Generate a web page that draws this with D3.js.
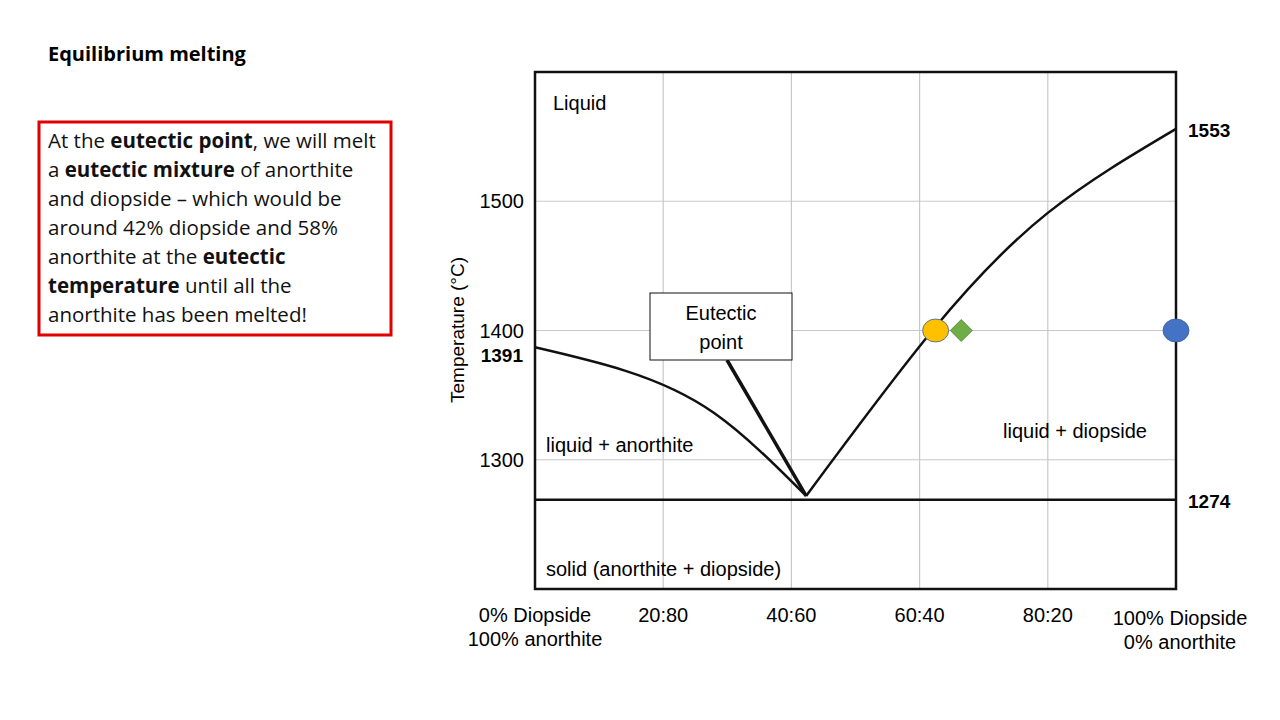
<!DOCTYPE html>
<html><head><meta charset="utf-8">
<script src="https://cdn.jsdelivr.net/npm/d3@7"></script>
<style>body{margin:0;background:#fff}</style>
</head><body><svg id="c" width="1280" height="720"></svg>
<script>
"use strict";

// composition (% diopside) vs temperature (°C)
const xTicks = [0, 20, 40, 60, 80, 100];
const xTickLabels = ["0% Diopside\n100% anorthite", "20:80", "40:60", "60:40", "80:20", "100% Diopside\n0% anorthite"];
const yTicks = [1300, 1400, 1500];
const anorthiteLiquidus = [[0, 1387], [14, 1369], [28, 1336], [42.3, 1272]];
const diopsideLiquidus = [[42.3, 1272], [62, 1400], [80, 1491], [100, 1556]];
const eutecticT = 1269;
const markers = [
    {x: 62.5, t: 1400, shape: "circle", color: "#ffc000"},
    {x: 66.5, t: 1400, shape: "diamond", color: "#70ad47"},
    {x: 100, t: 1400, shape: "circle", color: "#4472c4"}
];
const sideLabels = [{t: 1556, text: "1553"}, {t: eutecticT, text: "1274"}];
const noteLines = [
    [["At the ", 0], ["eutectic point", 1], [", we will melt", 0]],
    [["a ", 0], ["eutectic mixture", 1], [" of anorthite", 0]],
    [["and diopside \u2013 which would be", 0]],
    [["around 42% diopside and 58%", 0]],
    [["anorthite at the ", 0], ["eutectic", 1]],
    [["temperature", 1], [" until all the", 0]],
    [["anorthite has been melted!", 0]]
];

const svg = d3.select("#c");
const x = d3.scaleLinear().domain([0, 100]).range([535, 1176]);
const y = d3.scaleLinear().domain([1200, 1600]).range([589, 72]);

svg.append("text").attr("x", 48).attr("y", 61).attr("font-family", "Open Sans")
    .attr("font-weight", "bold").attr("font-size", 20).text("Equilibrium melting");

svg.append("rect").attr("x", 39).attr("y", 122).attr("width", 352).attr("height", 213)
    .attr("fill", "none").attr("stroke", "#e00000").attr("stroke-width", 3);
let note = svg.append("text").attr("font-family", "Open Sans").attr("font-size", 20.5).attr("fill", "#111");
noteLines.forEach((line, i) => {
    let tl = note.append("tspan").attr("x", 48).attr("y", 148 + i * 29);
    line.forEach(([s, b], j) => {
        let sp = j == 0 ? tl : note.append("tspan");
        sp.text(s).attr("font-weight", b ? "bold" : "normal");
    });
});

// grid
svg.append("g").selectAll("line").data(xTicks.slice(1, -1)).join("line")
    .attr("x1", d => x(d)).attr("x2", d => x(d)).attr("y1", 72).attr("y2", 589)
    .attr("stroke", "#c8c8c8").attr("stroke-width", 1.2);
svg.append("g").selectAll("line").data(yTicks).join("line")
    .attr("x1", 535).attr("x2", 1176).attr("y1", d => y(d)).attr("y2", d => y(d))
    .attr("stroke", "#c8c8c8").attr("stroke-width", 1.2);
svg.append("rect").attr("x", 535).attr("y", 72).attr("width", 641).attr("height", 517)
    .attr("fill", "none").attr("stroke", "#111").attr("stroke-width", 2.5);

const font = "Liberation Sans, Arial";
svg.append("g").selectAll("text").data(yTicks).join("text")
    .attr("x", 524).attr("y", d => y(d) + 7).attr("text-anchor", "end")
    .attr("font-family", font).attr("font-size", 20).text(d => d);
svg.append("text").attr("transform", "translate(464,330) rotate(-90)").attr("text-anchor", "middle")
    .attr("font-family", font).attr("font-size", 19).text("Temperature (°C)");
xTickLabels.forEach((l, i) => {
    let t = svg.append("text").attr("text-anchor", "middle").attr("font-family", font).attr("font-size", 20);
    l.split("\n").forEach((s, k) => t.append("tspan").attr("x", x(xTicks[i]) + (i == 5 ? 4 : 0))
        .attr("y", 622 + k * 24 + (i == 5 ? 3 : 0)).text(s));
});

const line = d3.line().x(d => x(d[0])).y(d => y(d[1])).curve(d3.curveNatural);
[anorthiteLiquidus, diopsideLiquidus].forEach(c => svg.append("path").attr("d", line(c))
    .attr("fill", "none").attr("stroke", "#111").attr("stroke-width", 2.5));
svg.append("line").attr("x1", x(0)).attr("x2", x(100)).attr("y1", y(eutecticT)).attr("y2", y(eutecticT))
    .attr("stroke", "#111").attr("stroke-width", 2.5);

sideLabels.forEach(s => svg.append("text").attr("x", 1188).attr("y", y(s.t) + 8)
    .attr("font-family", font).attr("font-weight", "bold").attr("font-size", 19).text(s.text));
svg.append("text").attr("x", 523).attr("y", y(1387) + 15).attr("text-anchor", "end")
    .attr("font-family", font).attr("font-weight", "bold").attr("font-size", 19).text("1391");

const regionLabels = [[553, 110, "Liquid"], [546, 452, "liquid + anorthite"], [1003, 438, "liquid + diopside"], [546, 576, "solid (anorthite + diopside)"]];
regionLabels.forEach(r => svg.append("text").attr("x", r[0]).attr("y", r[1])
    .attr("font-family", font).attr("font-size", 20).text(r[2]));

// eutectic callout
svg.append("line").attr("x1", 727).attr("y1", 360).attr("x2", x(42.3)).attr("y2", y(1272))
    .attr("stroke", "#111").attr("stroke-width", 3.5);
svg.append("rect").attr("x", 650).attr("y", 293).attr("width", 142).attr("height", 67)
    .attr("fill", "#fff").attr("stroke", "#111").attr("stroke-width", 1);
["Eutectic", "point"].forEach((s, i) => svg.append("text").attr("x", 721).attr("y", 320 + i * 29)
    .attr("text-anchor", "middle").attr("font-family", font).attr("font-size", 20).text(s));

markers.forEach(m => {
    if (m.shape == "circle")
        svg.append("ellipse").attr("cx", x(m.x)).attr("cy", y(m.t)).attr("rx", 13).attr("ry", 11.5)
            .attr("fill", m.color).attr("stroke", "#3a5f9a").attr("stroke-width", 0.8);
    else
        svg.append("path").attr("d", "M-11,0L0,-11L11,0L0,11Z")
            .attr("transform", `translate(${x(m.x)},${y(m.t)})`).attr("fill", m.color)
            .attr("stroke", "#507e32").attr("stroke-width", 0.8);
});
</script></body></html>
